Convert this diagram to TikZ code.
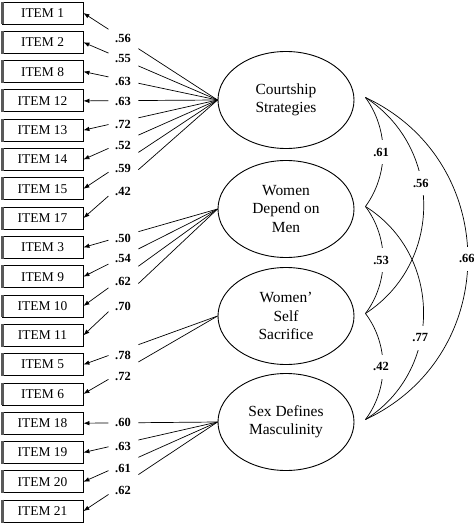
\documentclass[tikz,border=0pt]{standalone}
\usepackage{fontspec}
\setmainfont{Liberation Serif}
\usetikzlibrary{shapes.geometric,calc,arrows.meta}
\begin{document}
\begin{tikzpicture}[x=1bp,y=-1bp,
  itembox/.style={draw, line width=0.8bp, minimum width=81bp, minimum height=22bp, inner sep=0pt, font=\fontsize{13.5}{14}\selectfont},
  latent/.style={draw, ellipse, line width=0.9bp, minimum width=136bp, minimum height=97bp, inner sep=0pt, align=center, font=\fontsize{15.5}{18.5}\selectfont},
  ld/.style={font=\bfseries\fontsize{12.5}{13}\selectfont, inner sep=1bp},
  cv/.style={font=\bfseries\fontsize{12.5}{13}\selectfont, fill=white, inner sep=1bp, minimum height=24bp},
  arr/.style={-{Latex[length=6bp,width=4.5bp]}, line width=0.7bp},
  ln/.style={line width=0.7bp},
  shade/.style={line width=2.5bp, black!65}]
\useasboundingbox (0,0) rectangle (474,524);
% items
\foreach \t [count=\i from 0] in {1,2,8,12,13,14,15,17,3,9,10,11,5,6,18,19,20,21}{
  \node[itembox] (it\t) at (42.5,{13+29.3*\i}) {ITEM \t};
  \draw[shade] ([xshift=1bp]it\t.north west) -- ([xshift=1bp]it\t.south west);
}
% latent variables
\node[latent] (cs) at (286,100) {Courtship\\Strategies};
\node[latent] (wd) at (286,209) {Women\\Depend on\\Men};
\node[latent] (ws) at (286,316) {Women’\\Self\\Sacrifice};
\node[latent] (sd) at (286,422) {Sex Defines\\Masculinity};
% loadings
\foreach \e/\t/\v/\ly in {cs/1/.56/38, cs/2/.55/59, cs/8/.63/81, cs/12/.63/101, cs/13/.72/124, cs/14/.52/145, cs/15/.59/168, cs/17/.42/191,
  wd/3/.50/238, wd/9/.54/258, wd/10/.62/281, wd/11/.70/306,
  ws/5/.78/355, ws/6/.72/376,
  sd/18/.60/422, sd/19/.63/446, sd/20/.61/468, sd/21/.62/490}{
  \draw[ln] (\e.west) -- ($(\e.west)!0.59!(it\t.east)$);
  \draw[arr] ($(\e.west)!0.813!(it\t.east)$) -- (it\t.east);
  \node[ld] (lab\t) at (123,\ly) {\v};
}
% covariance anchors
\foreach \e in {cs,wd,ws,sd}{
  \coordinate (\e r) at ($(\e.east)+(11,-2.5)$);
}
\draw[ln] (csr) to[bend left=36, looseness=0.94] node[cv, xshift=-2bp] {.61} (wdr);
\draw[ln] (wdr) to[bend left=37, looseness=0.94] node[cv, xshift=-2bp] {.53} (wsr);
\draw[ln] (wsr) to[bend left=37, looseness=0.94] node[cv, xshift=-2bp] {.42} (sdr);
\draw[ln] (csr) to[bend left=57, looseness=1.1] node[cv, pos=0.41, xshift=-1bp] {.56} (wsr);
\draw[ln] (wdr) to[bend left=58, looseness=1.1] node[cv, pos=0.6, xshift=-1bp] {.77} (sdr);
\draw[ln] (csr) to[bend left=65, looseness=1.2] node[cv, xshift=-1bp] {.66} (sdr);
\end{tikzpicture}
\end{document}
